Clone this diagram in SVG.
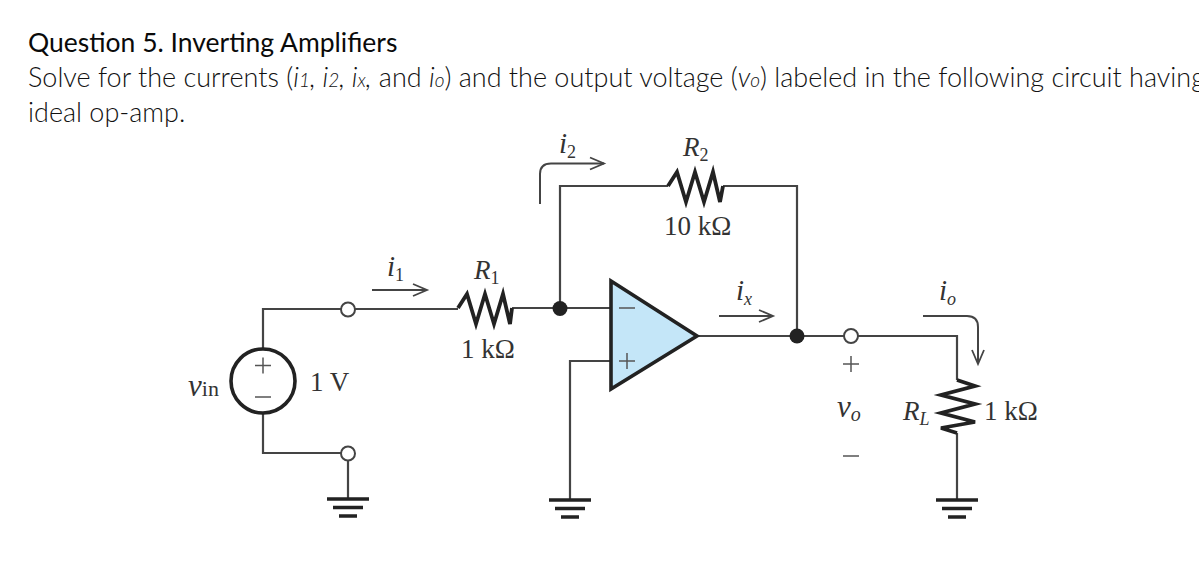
<svg xmlns="http://www.w3.org/2000/svg" width="1199" height="572" viewBox="0 0 1199 572">
<style>
.h{font-family:"Lato","Open Sans","Liberation Sans",sans-serif;fill:#0a0a0a}
.t{font-size:26.500px;font-weight:400}
.b{font-size:27px;font-weight:300;fill:#111}
.sub{font-size:19px}
.s{font-family:"Liberation Serif",serif;font-size:27px;fill:#333}
.big{font-size:31px}
.cur{font-size:29px}
.i{font-style:italic}
.w{fill:none;stroke:#444;stroke-width:2.200}
.z{fill:none;stroke:#222;stroke-width:3.800;stroke-linejoin:miter}
.a{fill:none;stroke:#444;stroke-width:2}
.g{stroke:#222;stroke-width:3.600}
.m{stroke:#555;stroke-width:1.500;fill:none}
.o{fill:#fff;stroke:#444;stroke-width:2}
.j{fill:#222}
</style>
<defs>
<marker id="ah" markerWidth="18" markerHeight="16" refX="15" refY="8" orient="auto" markerUnits="userSpaceOnUse"><path d="M1 2L15 8L1 14" fill="none" stroke="#444" stroke-width="1.800"/></marker>
<g id="gnd"><path class="g" d="M-21 0H21M-15 8.500H15M-9 17H9"/></g>
</defs>
<g id="heading">
<text class="h t" x="28" y="52">Question 5. Inverting Amplifiers</text>
<text class="h b" x="28" y="87">Solve for the currents (<tspan class="i">i<tspan class="sub">1</tspan>, i<tspan class="sub">2</tspan>, i<tspan class="sub">x</tspan>,</tspan> and <tspan class="i">i<tspan class="sub">o</tspan></tspan>) and the output voltage (<tspan class="i">v<tspan class="sub">o</tspan></tspan>) labeled in the following circuit having an</text>
<text class="h b" x="28" y="122">ideal op-amp.</text>
</g>
<g id="connectors">
<path class="w" d="M263 349V309H341M355 309H458"/>
<path class="w" d="M263 413V453H341"/>
<path class="w" d="M348 461V499"/>
<path class="w" d="M512 308H611"/>
<path class="w" d="M560 308V186H668"/>
<path class="w" d="M723 186H797V336"/>
<path class="w" d="M697 336H844M858 336H957V380"/>
<path class="w" d="M957 433V500"/>
<path class="w" d="M611 361H570V500"/>
<path class="a" marker-end="url(#ah)" d="M372 290H427"/>
<path class="a" marker-end="url(#ah)" d="M540 204V174Q540 163.500 551 163.500H604"/>
<path class="a" marker-end="url(#ah)" d="M719 316H773"/>
<path class="a" marker-end="url(#ah)" d="M923 316H967Q978 316 978 327V364"/>
</g>
<g id="source">
<circle cx="263" cy="381" r="32" fill="#fff" stroke="#222" stroke-width="3.600"/>
<path class="m" d="M255 365.500H271M263 357.500V373.500M255 397H271"/>
<text class="s i big" x="188" y="396">v<tspan font-size="22" font-style="normal">in</tspan></text>
<text class="s" x="310" y="391">1 V</text>
</g>
<g id="in-top"><circle class="o" cx="348" cy="309.500" r="7"/></g>
<g id="in-bottom"><circle class="o" cx="348" cy="453.500" r="7"/></g>
<g id="gnd-in"><use href="#gnd" x="348" y="499"/></g>
<g id="gnd-opamp"><use href="#gnd" x="570" y="500"/></g>
<g id="gnd-load"><use href="#gnd" x="957" y="500"/></g>
<g id="r1">
<path class="z" d="M458 308L467 294L476 324L485 294L494 324L503 294L510 324L512 308"/>
<text class="s i" x="474" y="279">R<tspan font-size="18" font-style="normal" dy="5">1</tspan></text>
<text class="s" x="461" y="358">1 kΩ</text>
</g>
<g id="r2">
<path class="z" d="M668 186L677 172L686 202L695 172L704 202L713 172L720 202L723 186"/>
<text class="s i" x="683" y="156">R<tspan font-size="18" font-style="normal" dy="5">2</tspan></text>
<text class="s" x="664" y="235">10 kΩ</text>
</g>
<g id="rl">
<path class="z" d="M957 380L975 386L941 395L975 404L941 413L975 422L941 428L957 433"/>
<text class="s i" x="903" y="420">R<tspan font-size="18" dy="5">L</tspan></text>
<text class="s" x="984" y="420">1 kΩ</text>
</g>
<g id="opamp">
<path d="M611 281L697 336L611 389Z" fill="#c4e6f8" stroke="#222" stroke-width="3.600" stroke-linejoin="miter"/>
<path class="m" d="M619 308H635M619 361H635M627 353V369"/>
</g>
<g id="junction-in"><circle class="j" cx="560" cy="308.500" r="7.500"/></g>
<g id="junction-out"><circle class="j" cx="797" cy="336" r="7.500"/></g>
<g id="out-node">
<circle class="o" cx="851" cy="336" r="7"/>
<path class="m" d="M843 364H859M851 356V372M843 456H859"/>
<text class="s i big" x="837" y="417">v<tspan font-size="20" dy="4">o</tspan></text>
</g>
<g id="labels">
<text class="s i cur" x="387" y="276">i<tspan font-size="18" font-style="normal" dy="5">1</tspan></text>
<text class="s i cur" x="559" y="153">i<tspan font-size="18" font-style="normal" dy="5">2</tspan></text>
<text class="s i cur" x="736" y="300">i<tspan font-size="18" dy="5">x</tspan></text>
<text class="s i cur" x="939" y="300">i<tspan font-size="18" dy="5">o</tspan></text>
</g>
</svg>
